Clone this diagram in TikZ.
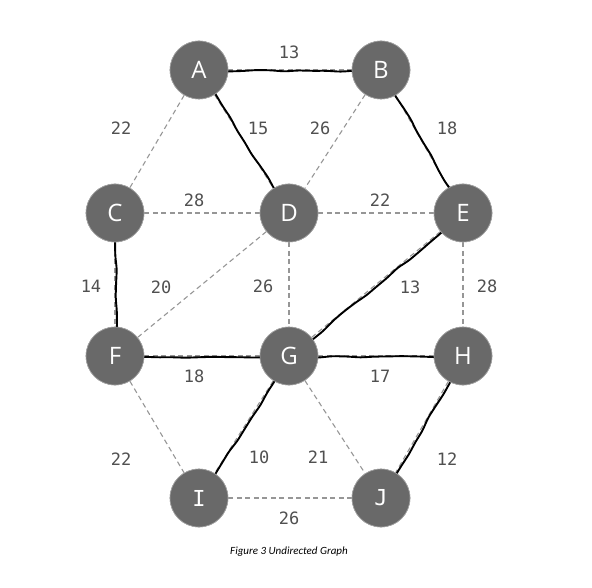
\documentclass[tikz,border=0pt]{standalone}
\usepackage{fontspec}
\setmainfont{Open Sans}
\newfontfamily\numfont{DejaVu Sans Mono}
\newfontfamily\capfont{Carlito}
\usetikzlibrary{positioning,backgrounds,decorations.pathmorphing}

\definecolor{vertexgray}{RGB}{105,105,105}
\definecolor{edgegray}{RGB}{150,150,150}
\definecolor{labelgray}{RGB}{80,80,80}

\begin{document}
\begin{tikzpicture}[
  x=1pt, y=-1pt,
  every node/.style={align=center},
  vertex/.style={circle, draw=gray!70, fill=vertexgray, line width=0.6pt, minimum size=58pt, inner sep=0pt, text=white, font=\fontsize{24}{24}\selectfont},
  monovertex/.style={vertex, font=\numfont\fontsize{22}{22}\selectfont},
  edge/.style={draw=edgegray, dash pattern=on 5pt off 3.5pt, line width=1.1pt},
  tree/.style={draw=black, line width=1.9pt, line cap=round, decorate, decoration={random steps, segment length=14pt, amplitude=1pt}, rounded corners=3pt},
  weight/.style={font=\numfont\fontsize{17}{17}\selectfont, text=labelgray}
]
  \pgfmathsetseed{7}
  \useasboundingbox (0,0) rectangle (592,588);

  % Vertices
  \node[vertex] (A) at (199,70) {A};
  \node[vertex] (B) at (381,70) {B};
  \node[vertex] (C) at (115,213) {C};
  \node[vertex] (D) at (289,213) {D};
  \node[vertex] (E) at (463,213) {E};
  \node[vertex] (F) at (115,356) {F};
  \node[vertex] (G) at (289,356) {G};
  \node[vertex] (H) at (463,356) {H};
  \node[monovertex] (I) at (199,498) {I};
  \node[monovertex] (J) at (381,498) {J};

  % Edge weights
  \node[weight] (wAB) at (289,52) {13};
  \node[weight] (wAC) at (121,128) {22};
  \node[weight] (wAD) at (258,128) {15};
  \node[weight] (wBD) at (320,128) {26};
  \node[weight] (wBE) at (447,128) {18};
  \node[weight] (wCD) at (194,200) {28};
  \node[weight] (wDE) at (380,200) {22};
  \node[weight] (wCF) at (91,286) {14};
  \node[weight] (wDF) at (161,287) {20};
  \node[weight] (wDG) at (263,286) {26};
  \node[weight] (wEG) at (410,287) {13};
  \node[weight] (wEH) at (487,286) {28};
  \node[weight] (wFG) at (194,376) {18};
  \node[weight] (wGH) at (380,376) {17};
  \node[weight] (wFI) at (121,459) {22};
  \node[weight] (wGI) at (259,457) {10};
  \node[weight] (wGJ) at (318,457) {21};
  \node[weight] (wHJ) at (447,459) {12};
  \node[weight] (wIJ) at (289,518) {26};

  % Caption
  \node[font=\capfont\itshape\fontsize{11}{11}\selectfont] (caption) at (289,552) {Figure 3 Undirected Graph};

  \begin{scope}[on background layer]
    % Dashed edges of the graph
    \foreach \u/\v in {A/B, A/C, A/D, B/D, B/E, C/D, D/E, C/F, D/F, D/G, E/G, E/H, F/G, G/H, F/I, G/I, G/J, H/J, I/J}
      \draw[edge] (\u) -- (\v);
  \end{scope}

  % Hand-drawn spanning tree
  \foreach \u/\v in {A/B, A/D, B/E, C/F, F/G, G/E, G/H, G/I, H/J}
    \draw[tree] ([shift={(1,1)}]\u.center) -- ([shift={(1,1)}]\v.center);
  % redraw vertices over the tree
  \foreach \n/\t in {A/A, B/B, C/C, D/D, E/E, F/F, G/G, H/H}
    \node[vertex] at (\n) {\t};
  \foreach \n in {I, J}
    \node[monovertex] at (\n) {\n};
\end{tikzpicture}
\end{document}
